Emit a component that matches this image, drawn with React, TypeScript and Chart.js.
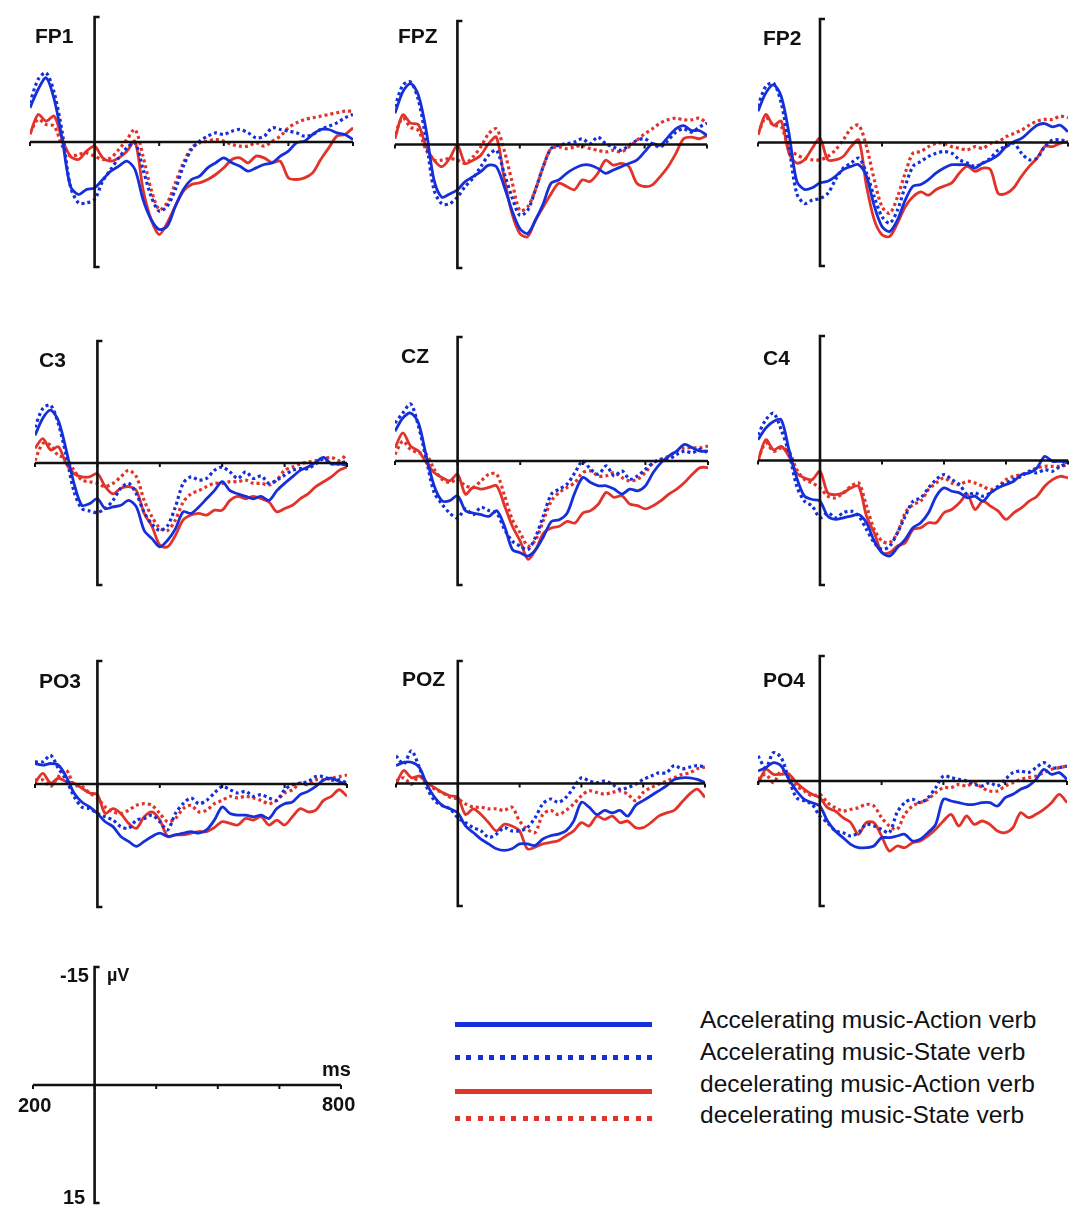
import { useEffect, useRef } from 'react';
import { Chart, registerables } from 'chart.js';

Chart.register(...registerables);

// time axis (ms) and axis ranges
const TIMES = [
  -200, -175, -150, -125, -100, -75, -50, -25, 0, 25, 50, 75, 100, 125, 150, 175, 200, 225, 250, 275,
  300, 325, 350, 375, 400, 425, 450, 475, 500, 525, 550, 575, 600, 625, 650, 675, 700, 725, 750, 775, 800,
];
const X_TICKS = [-200, 0, 200, 400, 600, 800];
const Y_MIN = -15;
const Y_MAX = 15;

const CONDITIONS = [
  'Accelerating music-Action verb',
  'Accelerating music-State verb',
  'decelerating music-Action verb',
  'decelerating music-State verb',
];

// amplitudes in µV, one value per entry of TIMES
const FP1_ACC_ACTION = [-4.1, -6.3, -7.7, -5.1, -0.3, 5.3, 6.3, 5.7, 5.5, 4.5, 3.5, 2.9, 2.3, 3.3, 6.9, 9.3, 10.5, 10.1, 7.7, 5.7, 4.5, 4.1, 3.1, 2.5, 1.9, 2.5, 2.9, 3.5, 3.1, 2.7, 2.5, 1.7, 1.1, 0.1, -0.1, -0.9, -1.5, -1.5, -1.1, -0.9, -0.3];
const FP1_ACC_STATE = [-4.7, -7.5, -8.3, -5.9, -1.1, 5.3, 7.3, 7.3, 6.9, 4.7, 3.3, 1.9, 0.7, 0.1, 3.3, 6.5, 8.3, 7.7, 5.7, 2.9, 0.9, -0.1, -0.7, -1.1, -0.9, -1.3, -1.5, -1.1, -0.5, -0.7, -1.7, -1.5, -1.3, -1.1, -0.7, -0.9, -1.5, -1.9, -2.3, -2.9, -3.3];
const FP1_DEC_ACTION = [-0.9, -3.3, -2.5, -3.1, -0.3, 1.7, 2.1, 1.1, 0.5, 1.9, 2.3, 1.9, 1.1, -0.1, 5.7, 9.3, 11.1, 9.7, 7.7, 5.9, 5.1, 4.9, 4.5, 3.9, 3.1, 2.1, 1.9, 2.5, 1.7, 1.9, 2.5, 2.3, 4.3, 4.5, 4.3, 3.7, 2.1, 0.7, -0.7, -0.9, -1.7];
const FP1_DEC_STATE = [-1.1, -2.7, -2.1, -1.9, 0.5, 1.7, 1.5, 1.3, 1.7, 2.1, 1.9, 0.9, -0.3, -1.5, 1.7, 5.7, 8.1, 7.3, 4.9, 2.5, 0.7, 0.1, -0.1, -0.3, -0.1, 0.3, 0.5, 0.5, 0.1, 0.5, -0.1, -0.7, -1.7, -2.3, -2.7, -2.9, -3.1, -3.3, -3.5, -3.7, -3.7];

const FPZ_ACC_ACTION = [-3.8, -6.4, -7.4, -6.0, -1.7, 4.3, 6.4, 6.0, 5.5, 4.5, 3.9, 3.3, 2.5, 2.7, 5.1, 8.0, 10.2, 10.8, 9.2, 7.2, 4.7, 4.3, 3.5, 2.9, 2.5, 2.5, 2.9, 3.5, 3.1, 2.7, 2.3, 1.9, 0.9, -0.1, 0.1, -0.9, -1.9, -2.3, -1.7, -1.7, -1.1];
const FPZ_ACC_STATE = [-4.6, -7.2, -7.6, -5.4, -0.5, 5.5, 7.2, 7.2, 6.4, 5.1, 4.1, 2.7, 1.3, 0.7, 3.5, 6.4, 8.6, 8.0, 5.5, 2.7, 0.5, 0.1, -0.1, -0.3, -0.7, -0.1, -0.9, -0.1, 0.3, 0.7, 0.1, -0.5, -0.7, -0.1, 0.3, -0.5, -1.5, -1.9, -1.5, -2.1, -2.6];
const FPZ_DEC_ACTION = [-0.7, -3.6, -2.6, -2.4, 0.3, 1.9, 2.7, 1.7, 0.1, 2.3, 1.9, 1.3, -0.1, -0.9, 4.1, 8.4, 10.8, 11.2, 9.2, 7.6, 6.0, 4.7, 5.1, 5.5, 4.3, 4.5, 3.5, 1.9, 2.5, 2.3, 2.7, 4.7, 5.1, 4.9, 3.9, 2.7, 1.1, -0.7, -0.9, -0.7, -1.1];
const FPZ_DEC_STATE = [-1.3, -3.2, -2.1, -1.7, 0.7, 1.9, 1.9, 1.7, 1.9, 2.3, 1.5, 0.3, -1.3, -1.9, 0.7, 4.5, 8.0, 7.6, 5.5, 2.7, 0.5, 0.3, 0.5, 0.3, 0.1, 0.5, 0.7, 0.9, 0.7, 0.9, 0.3, -0.5, -1.3, -1.9, -2.6, -3.0, -3.2, -3.0, -3.0, -3.2, -2.6];

const FP2_ACC_ACTION = [-3.8, -6.0, -7.0, -5.6, -1.1, 4.7, 5.7, 5.5, 4.9, 4.7, 4.1, 3.3, 2.9, 2.7, 4.1, 7.7, 10.2, 10.8, 9.4, 7.0, 5.3, 5.1, 4.5, 3.7, 3.1, 2.7, 2.7, 2.7, 3.1, 2.5, 2.1, 1.5, 0.5, -0.1, -0.5, -1.3, -2.1, -2.3, -1.9, -2.1, -1.3];
const FP2_ACC_STATE = [-4.4, -6.8, -7.2, -4.8, 0.5, 6.2, 7.4, 7.0, 6.8, 6.2, 4.5, 3.1, 2.5, 1.9, 3.7, 6.6, 9.0, 9.8, 8.2, 5.3, 2.9, 2.3, 1.7, 1.3, 1.1, 1.3, 2.1, 2.5, 2.9, 2.5, 1.9, 0.9, 0.5, 0.1, 1.3, 2.1, 1.9, 0.5, -0.3, -0.3, -0.1];
const FP2_DEC_ACTION = [-0.9, -3.4, -2.1, -2.6, 1.3, 2.5, 2.1, 0.7, -0.5, 2.1, 2.1, 1.7, 0.5, -0.3, 5.3, 9.4, 11.2, 11.4, 9.8, 7.8, 6.6, 6.0, 6.4, 5.7, 5.3, 4.9, 3.7, 2.9, 3.5, 3.1, 3.3, 6.2, 6.2, 5.5, 4.1, 2.9, 1.9, 0.5, 0.5, 0.1, -0.1];
const FP2_DEC_STATE = [-1.1, -3.0, -2.1, -1.9, 0.7, 1.5, 1.9, 2.1, 2.1, 1.7, 0.9, -0.3, -1.7, -2.1, 0.5, 4.5, 7.8, 8.6, 6.6, 3.7, 1.3, 1.1, 0.5, 0.1, 0.1, 0.5, 0.7, 0.9, 0.5, 0.7, 0.1, -0.1, -0.7, -1.1, -1.5, -2.1, -2.6, -2.8, -2.8, -3.2, -3.0];

const C3_ACC_ACTION = [-3.4, -5.5, -6.5, -5.2, -1.6, 2.5, 5.2, 5.0, 4.4, 5.6, 5.4, 5.2, 4.6, 5.4, 8.3, 9.3, 10.3, 9.5, 8.1, 6.0, 6.2, 5.4, 4.4, 3.4, 2.3, 3.4, 3.8, 4.1, 4.4, 4.1, 4.6, 3.4, 2.5, 1.7, 0.9, 0.5, -0.1, -0.7, 0.1, 0.1, 0.3];
const C3_ACC_STATE = [-4.4, -6.7, -7.1, -4.8, -0.9, 3.5, 5.6, 5.9, 6.1, 5.6, 4.6, 3.1, 2.5, 3.8, 6.1, 7.5, 8.3, 7.7, 5.4, 2.5, 1.7, 2.1, 1.9, 0.9, 0.5, 1.1, 1.9, 1.1, 1.9, 1.6, 2.5, 2.1, 1.5, 0.9, 0.7, 0.7, 0.1, -0.5, 0.1, 0.1, -0.3];
const C3_DEC_ACTION = [-1.8, -3.0, -1.6, -2.0, 0.1, 1.3, 1.7, 1.7, 1.3, 2.9, 3.8, 3.1, 2.9, 3.4, 6.2, 7.8, 10.1, 10.3, 8.9, 7.0, 6.4, 6.2, 6.4, 5.8, 5.8, 4.6, 4.1, 4.4, 4.1, 4.4, 4.8, 6.0, 5.6, 5.2, 4.4, 3.8, 2.9, 2.3, 1.7, 0.9, 0.5];
const C3_DEC_STATE = [-0.3, -2.4, -2.2, -0.9, -0.7, 0.9, 2.1, 2.3, 2.5, 2.9, 2.5, 1.7, 0.9, 1.7, 4.6, 6.6, 8.0, 8.3, 7.0, 4.8, 3.8, 3.4, 2.9, 2.5, 2.5, 2.3, 2.3, 2.1, 2.5, 2.5, 2.7, 2.1, 0.9, 0.5, 0.1, -0.1, -0.3, -0.5, -0.7, -0.3, -1.1];

const CZ_ACC_ACTION = [-3.6, -5.2, -5.8, -4.6, -0.6, 3.0, 4.8, 4.8, 4.2, 6.0, 6.3, 6.5, 6.7, 6.0, 7.9, 10.7, 11.1, 11.5, 10.7, 9.1, 7.3, 7.1, 6.3, 3.8, 2.0, 2.6, 3.0, 3.0, 3.4, 4.0, 3.4, 3.6, 3.0, 1.4, 0.2, -0.6, -1.2, -2.0, -1.6, -1.2, -1.2];
const CZ_ACC_STATE = [-4.6, -5.8, -6.9, -4.2, -0.2, 3.8, 5.2, 6.3, 6.9, 5.8, 6.5, 5.6, 6.0, 6.3, 8.3, 9.7, 10.3, 10.7, 9.1, 6.5, 4.0, 3.4, 2.8, 1.4, 0.0, 1.0, 1.6, 0.6, 1.8, 1.2, 2.2, 1.8, 1.0, 0.2, -0.2, -0.2, -0.8, -1.2, -1.0, -1.4, -1.0];
const CZ_DEC_ACTION = [-1.6, -3.4, -1.8, -1.2, 0.2, 1.4, 2.0, 2.4, 1.6, 4.0, 3.2, 3.4, 3.2, 3.0, 5.4, 7.9, 9.7, 11.9, 10.7, 8.7, 8.1, 7.9, 7.3, 7.5, 6.3, 6.0, 5.2, 3.8, 4.4, 4.2, 5.2, 5.4, 5.8, 5.4, 4.8, 4.0, 3.4, 2.6, 1.6, 0.8, 0.8];
const CZ_DEC_STATE = [-0.8, -2.4, -1.4, -1.0, -0.8, 1.0, 2.2, 2.6, 2.2, 3.0, 3.2, 2.4, 1.6, 1.6, 4.2, 7.1, 8.7, 10.3, 9.5, 7.1, 4.8, 3.8, 3.2, 2.6, 1.4, 1.2, 1.8, 1.8, 1.4, 2.0, 2.4, 2.2, 1.4, 0.2, -0.2, -0.6, -1.2, -1.6, -1.6, -1.6, -1.8];

const C4_ACC_ACTION = [-2.5, -3.9, -4.7, -4.9, -1.3, 2.1, 4.3, 4.7, 4.9, 6.7, 7.1, 6.9, 6.7, 6.5, 7.5, 9.7, 11.1, 11.5, 10.5, 9.5, 8.1, 7.5, 6.3, 4.3, 3.3, 3.7, 3.9, 4.5, 4.3, 4.9, 3.9, 3.3, 2.9, 2.5, 1.7, 1.5, 0.9, -0.5, 0.1, 0.1, 0.3];
const C4_ACC_STATE = [-3.1, -4.9, -5.7, -3.7, -0.9, 3.1, 4.9, 5.5, 6.9, 6.3, 6.9, 6.3, 6.1, 6.7, 8.3, 9.9, 10.7, 10.3, 8.7, 6.7, 4.9, 4.5, 3.3, 2.3, 1.7, 2.3, 2.9, 4.1, 3.9, 4.3, 3.9, 3.1, 2.7, 2.3, 1.9, 1.3, 1.5, 1.1, 1.3, 0.7, 0.3];
const C4_DEC_ACTION = [0.1, -2.5, -1.3, -1.7, -0.5, 1.5, 2.1, 2.3, 1.3, 3.9, 4.1, 3.9, 3.3, 3.1, 6.7, 8.7, 11.1, 11.1, 10.3, 9.9, 8.3, 8.1, 7.5, 7.5, 6.3, 5.9, 5.1, 4.1, 5.9, 4.9, 5.5, 6.1, 7.1, 6.3, 5.7, 4.9, 4.3, 3.1, 2.3, 1.9, 2.1];
const C4_DEC_STATE = [-0.1, -2.1, -1.1, -1.5, -1.1, 1.1, 2.3, 2.7, 3.3, 4.3, 4.5, 3.9, 3.1, 2.7, 5.5, 8.3, 9.7, 9.9, 8.7, 6.3, 5.3, 4.9, 3.5, 2.7, 2.1, 2.7, 2.9, 2.5, 2.7, 3.1, 3.5, 3.1, 2.3, 1.9, 1.7, 1.3, 0.9, 0.7, 0.7, 0.7, 0.5];

const PO3_ACC_ACTION = [-2.5, -2.3, -2.5, -2.3, -0.9, 1.1, 2.2, 2.8, 3.6, 4.6, 5.2, 6.4, 7.0, 7.6, 7.0, 6.4, 6.0, 6.4, 6.2, 6.0, 5.8, 6.0, 5.6, 4.4, 2.8, 3.6, 3.8, 3.8, 4.0, 3.8, 4.2, 3.0, 2.4, 2.2, 1.3, 0.9, 0.3, -0.5, -0.7, -0.3, 0.1];
const PO3_ACC_STATE = [-2.7, -2.7, -3.5, -1.9, -0.5, 1.5, 2.8, 3.0, 3.6, 4.0, 4.4, 5.2, 5.4, 4.4, 4.2, 3.8, 4.6, 5.6, 3.6, 2.4, 1.7, 2.4, 2.0, 1.1, 0.3, 0.7, 1.1, 0.9, 1.5, 1.3, 1.7, 2.0, 0.7, 0.1, -0.1, -0.3, -0.9, -0.9, -0.5, -0.5, -0.1];
const PO3_DEC_ACTION = [-0.1, -1.3, -0.1, -0.7, -0.3, -0.1, 0.5, 1.1, 1.3, 3.6, 3.0, 3.6, 4.8, 5.4, 4.0, 3.4, 4.4, 6.4, 6.2, 6.2, 6.0, 5.8, 5.8, 5.3, 4.6, 4.8, 5.0, 4.2, 4.4, 4.0, 5.0, 4.4, 5.0, 4.0, 3.0, 3.4, 3.2, 2.0, 1.5, 0.7, 1.5];
const PO3_DEC_STATE = [-0.5, -0.5, 0.3, -0.9, -1.7, 0.1, 0.3, 1.1, 1.7, 2.8, 3.4, 3.6, 3.2, 2.6, 2.4, 2.6, 3.6, 4.6, 4.2, 3.0, 2.6, 3.4, 3.2, 2.4, 2.0, 1.5, 1.7, 1.5, 1.7, 2.0, 2.4, 2.0, 1.1, 0.7, -0.1, 0.1, -0.5, -0.5, -0.7, -0.9, -1.1];

const POZ_ACC_ACTION = [-2.2, -2.6, -2.6, -2.0, 0.1, 1.7, 2.7, 3.1, 3.6, 5.2, 6.0, 6.8, 7.4, 8.0, 8.2, 8.0, 7.4, 7.4, 7.6, 6.8, 6.4, 6.2, 5.8, 4.6, 2.3, 2.9, 3.8, 3.3, 3.6, 3.3, 4.0, 2.7, 2.1, 1.5, 0.9, 0.3, -0.5, -0.7, -0.7, -0.5, -0.1];
const POZ_ACC_STATE = [-3.4, -2.4, -4.0, -2.0, 0.5, 2.1, 2.7, 3.1, 4.2, 4.8, 5.4, 5.8, 6.6, 6.2, 5.4, 5.8, 5.8, 5.4, 4.2, 2.5, 1.9, 2.3, 1.7, 0.5, -0.7, -0.3, -0.1, -0.3, 0.1, 0.7, 0.5, 0.1, -0.5, -0.9, -1.3, -1.3, -2.2, -1.8, -2.0, -2.2, -2.0];
const POZ_DEC_ACTION = [0.1, -1.6, -0.7, -0.9, -0.1, 0.5, 1.1, 1.5, 1.7, 3.8, 3.1, 3.8, 4.8, 5.8, 5.0, 5.2, 5.8, 8.0, 7.8, 7.4, 7.2, 7.0, 6.4, 5.8, 4.8, 5.2, 4.0, 4.4, 4.0, 4.8, 4.6, 5.4, 5.4, 4.8, 4.0, 3.6, 3.3, 2.3, 1.3, 0.7, 1.7];
const POZ_DEC_STATE = [-0.3, -0.7, 0.1, -0.9, -0.1, 0.7, 1.1, 1.7, 1.9, 2.5, 2.9, 2.9, 3.1, 3.1, 3.3, 2.9, 4.6, 5.6, 6.0, 3.8, 3.3, 3.8, 3.3, 2.5, 1.5, 0.9, 1.1, 1.3, 1.1, 0.9, 1.3, 2.1, 1.1, 0.5, 0.1, -0.3, -0.7, -1.1, -1.3, -1.8, -2.0];

const PO4_ACC_ACTION = [-1.2, -1.6, -2.2, -1.8, -0.2, 1.2, 2.2, 2.6, 3.0, 4.8, 6.0, 6.8, 7.6, 8.0, 8.0, 7.8, 6.8, 6.8, 6.6, 6.4, 7.2, 7.0, 6.2, 5.2, 2.2, 2.4, 2.6, 2.8, 2.8, 2.6, 2.6, 3.0, 2.0, 1.6, 1.0, 0.6, -0.2, -1.4, -0.8, -1.0, -0.2];
const PO4_ACC_STATE = [-3.0, -1.6, -3.4, -2.8, -0.2, 2.0, 2.4, 2.8, 4.2, 5.0, 6.0, 6.2, 6.6, 6.2, 5.2, 5.4, 5.8, 6.2, 3.8, 2.6, 2.2, 2.6, 2.0, 0.8, -0.6, -0.4, -0.2, 0.0, 0.4, 0.6, 0.2, 0.6, -0.2, -1.0, -1.2, -1.0, -1.6, -2.2, -1.6, -1.6, -1.8];
const PO4_DEC_ACTION = [0.4, -1.4, -0.8, -0.8, -0.8, 0.2, 1.0, 1.6, 2.0, 3.2, 3.6, 4.4, 5.0, 6.4, 5.0, 5.0, 6.6, 8.4, 7.8, 8.0, 7.4, 7.2, 6.6, 5.8, 4.8, 4.0, 5.4, 4.2, 5.2, 4.8, 5.2, 6.0, 6.2, 5.6, 3.8, 4.4, 4.0, 3.4, 2.6, 1.6, 2.6];
const PO4_DEC_STATE = [-0.2, -0.8, 0.2, -1.2, -0.8, 0.6, 1.2, 1.8, 1.6, 2.6, 3.2, 3.6, 3.4, 3.2, 2.8, 3.0, 4.4, 5.4, 5.8, 4.0, 3.0, 2.6, 2.2, 1.4, 0.8, 0.8, 0.4, 0.6, 0.2, 0.8, 1.2, 1.2, 0.6, 0.2, -0.2, -0.4, -0.6, -1.0, -1.4, -1.6, -1.8];

const CHANNELS = [
  { name: 'FP1', series: [FP1_ACC_ACTION, FP1_ACC_STATE, FP1_DEC_ACTION, FP1_DEC_STATE] },
  { name: 'FPZ', series: [FPZ_ACC_ACTION, FPZ_ACC_STATE, FPZ_DEC_ACTION, FPZ_DEC_STATE] },
  { name: 'FP2', series: [FP2_ACC_ACTION, FP2_ACC_STATE, FP2_DEC_ACTION, FP2_DEC_STATE] },
  { name: 'C3', series: [C3_ACC_ACTION, C3_ACC_STATE, C3_DEC_ACTION, C3_DEC_STATE] },
  { name: 'CZ', series: [CZ_ACC_ACTION, CZ_ACC_STATE, CZ_DEC_ACTION, CZ_DEC_STATE] },
  { name: 'C4', series: [C4_ACC_ACTION, C4_ACC_STATE, C4_DEC_ACTION, C4_DEC_STATE] },
  { name: 'PO3', series: [PO3_ACC_ACTION, PO3_ACC_STATE, PO3_DEC_ACTION, PO3_DEC_STATE] },
  { name: 'POZ', series: [POZ_ACC_ACTION, POZ_ACC_STATE, POZ_DEC_ACTION, POZ_DEC_STATE] },
  { name: 'PO4', series: [PO4_ACC_ACTION, PO4_ACC_STATE, PO4_DEC_ACTION, PO4_DEC_STATE] },
];

const BLUE = '#1530da';
const RED = '#e2332a';
const FONT = '"Liberation Sans", Arial, Helvetica, sans-serif';

const LINE_STYLES = [
  { color: BLUE, width: 2.8, dash: [] as number[] },
  { color: BLUE, width: 3.2, dash: [3, 3] },
  { color: RED, width: 2.8, dash: [] as number[] },
  { color: RED, width: 3.2, dash: [3, 3] },
];

// plot box of each panel (page pixels): x of -200 / 800 ms, y of -15 / +15 µV, label position
interface Box { x0: number; x1: number; y0: number; y1: number; lx: number; ly: number }
const BOXES: Box[] = [
  { x0: 30, x1: 353, y0: 17, y1: 267, lx: 35, ly: 28 },
  { x0: 395, x1: 707, y0: 21, y1: 268, lx: 398, ly: 28 },
  { x0: 758, x1: 1068, y0: 19, y1: 266, lx: 763, ly: 30 },
  { x0: 35, x1: 347, y0: 341, y1: 585, lx: 39, ly: 352 },
  { x0: 395, x1: 708, y0: 337, y1: 585, lx: 401, ly: 348 },
  { x0: 758, x1: 1068, y0: 336, y1: 585, lx: 763, ly: 350 },
  { x0: 35, x1: 347, y0: 661, y1: 907, lx: 39, ly: 673 },
  { x0: 396, x1: 705, y0: 661, y1: 906, lx: 402, ly: 671 },
  { x0: 758, x1: 1067, y0: 656, y1: 906, lx: 763, ly: 672 },
];
const KEY_BOX: Box = { x0: 33, x1: 341, y0: 967, y1: 1203, lx: 0, ly: 0 };
const PAD = 8;

// draws the zero line with ms ticks and the bracketed µV axis at 0 ms
const erpAxes = {
  id: 'erpAxes',
  afterDatasetsDraw(chart: Chart) {
    const { ctx } = chart;
    const xs = chart.scales.x;
    const ys = chart.scales.y;
    const xl = xs.getPixelForValue(TIMES[0]);
    const xr = xs.getPixelForValue(TIMES[TIMES.length - 1]);
    const x0 = xs.getPixelForValue(0);
    const y0 = ys.getPixelForValue(0);
    const yt = ys.getPixelForValue(Y_MIN);
    const yb = ys.getPixelForValue(Y_MAX);
    ctx.save();
    ctx.strokeStyle = '#111';
    ctx.lineWidth = 2.6;
    ctx.lineCap = 'butt';
    ctx.beginPath();
    ctx.moveTo(xl, y0);
    ctx.lineTo(xr, y0);
    ctx.stroke();
    ctx.lineWidth = 2;
    X_TICKS.forEach(t => {
      const px = xs.getPixelForValue(t);
      ctx.beginPath();
      ctx.moveTo(px, y0);
      ctx.lineTo(px, y0 + 4);
      ctx.stroke();
    });
    ctx.lineWidth = 2.6;
    ctx.beginPath();
    ctx.moveTo(x0 + 5, yt);
    ctx.lineTo(x0, yt);
    ctx.lineTo(x0, yb);
    ctx.lineTo(x0 + 5, yb);
    ctx.stroke();
    ctx.restore();
  },
};

function ErpPanel({ box, series }: { box: Box; series: number[][] }) {
  const chartRef = useRef<HTMLCanvasElement>(null);

  useEffect(() => {
    if (!chartRef.current) return;
    const chart = new Chart(chartRef.current, {
      type: 'line',
      data: {
        datasets: series.map((vals, i) => ({
          label: CONDITIONS[i],
          data: TIMES.map((t, k) => ({ x: t, y: vals[k] })),
          borderColor: LINE_STYLES[i].color,
          borderWidth: LINE_STYLES[i].width,
          borderDash: LINE_STYLES[i].dash,
          pointRadius: 0,
          tension: 0.3,
          fill: false,
        })),
      },
      options: {
        responsive: true,
        maintainAspectRatio: false,
        animation: false,
        events: [],
        layout: { padding: PAD },
        plugins: {
          legend: { display: false },
          tooltip: { enabled: false },
        },
        scales: {
          x: { type: 'linear', min: TIMES[0], max: TIMES[TIMES.length - 1], display: false },
          y: { min: Y_MIN, max: Y_MAX, reverse: true, display: false },
        },
      },
      plugins: [erpAxes],
    });
    return () => chart.destroy();
  }, [box, series]);

  return (
    <div
      style={{
        position: 'absolute',
        left: box.x0 - PAD,
        top: box.y0 - PAD,
        width: box.x1 - box.x0 + 2 * PAD,
        height: box.y1 - box.y0 + 2 * PAD,
      }}
    >
      <canvas ref={chartRef} />
    </div>
  );
}

function Text({ x, y, size, bold, children }: { x: number; y: number; size: number; bold?: boolean; children: string }) {
  // y is the vertical centre of the capitals
  return (
    <div
      style={{
        position: 'absolute',
        left: x,
        top: y - size * 0.49,
        fontSize: size,
        lineHeight: 1,
        fontWeight: bold ? 700 : 400,
        whiteSpace: 'nowrap',
        color: '#111',
      }}
    >
      {children}
    </div>
  );
}

const LEGEND_ROWS = [
  { lineY: 1024, textY: 1020 },
  { lineY: 1057, textY: 1052 },
  { lineY: 1091, textY: 1084 },
  { lineY: 1118, textY: 1115 },
];

export default function App() {
  return (
    <div style={{ position: 'absolute', left: 0, top: 0, width: 1084, height: 1220, background: '#fff', fontFamily: FONT }}>
      {CHANNELS.map((ch, i) => (
        <div key={ch.name}>
          <ErpPanel box={BOXES[i]} series={ch.series} />
          <Text x={BOXES[i].lx} y={BOXES[i].ly + 7.5} size={21} bold>
            {ch.name}
          </Text>
        </div>
      ))}

      <ErpPanel box={KEY_BOX} series={[]} />
      <Text x={60} y={975} size={20} bold>-15</Text>
      <Text x={107} y={975} size={18} bold>µV</Text>
      <Text x={63} y={1197} size={20} bold>15</Text>
      <Text x={322} y={1069} size={20} bold>ms</Text>
      <Text x={18} y={1105} size={20} bold>200</Text>
      <Text x={322} y={1104} size={20} bold>800</Text>

      {CONDITIONS.map((label, i) => {
        const st = LINE_STYLES[i];
        const bg = st.dash.length
          ? `repeating-linear-gradient(to right, ${st.color} 0px, ${st.color} 5px, transparent 5px, transparent 11.3px)`
          : st.color;
        return (
          <div key={label}>
            <div style={{ position: 'absolute', left: 455, top: LEGEND_ROWS[i].lineY - 2.5, width: 197, height: 5, background: bg }} />
            <Text x={700} y={LEGEND_ROWS[i].textY} size={24.5}>
              {label}
            </Text>
          </div>
        );
      })}
    </div>
  );
}
